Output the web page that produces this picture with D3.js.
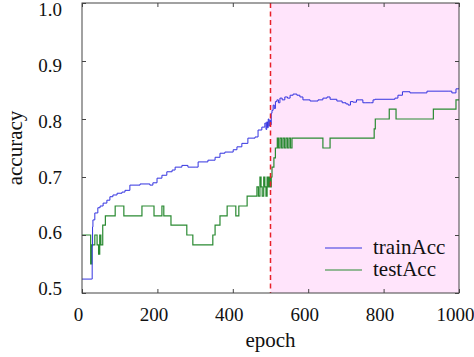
<!DOCTYPE html>
<html><head><meta charset="utf-8">
<script src="https://cdn.jsdelivr.net/npm/d3@7"></script>
<style>body{margin:0;background:#fff}svg{display:block}
svg text{font-family:"Liberation Serif","Times New Roman","DejaVu Serif",serif !important;}</style>
</head><body>
<script>
const xTicks = [0,200,400,600,800,1000];
const yTicks = [0.5,0.6,0.7,0.8,0.9,1.0];
const boundaryEpoch = 500;

const trainEpoch = [0,26,27,28,29,34,42,48,56,66,74,82,93,106,114,127,154,180,188,199,212,225,239,247,265,281,300,308,334,353,366,379,401,411,424,440,459,467,477,485,488,490,492,494,496,498,500,502,504,507,510,513,517,521,525,531,538,545,552,560,570,578,586,605,626,639,650,658,676,690,700,706,712,719,728,737,745,751,765,772,777,830,838,850,870,910,915,971,981,992,1000];
const trainAcc   = [0.524,0.524,0.58,0.614,0.626,0.638,0.647,0.65,0.655,0.66,0.666,0.669,0.672,0.674,0.677,0.686,0.688,0.686,0.69,0.698,0.703,0.709,0.712,0.717,0.72,0.717,0.717,0.726,0.729,0.734,0.741,0.743,0.747,0.752,0.758,0.767,0.769,0.781,0.786,0.793,0.782,0.795,0.785,0.80,0.788,0.798,0.79,0.81,0.815,0.824,0.818,0.83,0.833,0.828,0.836,0.833,0.838,0.836,0.841,0.843,0.841,0.838,0.833,0.831,0.833,0.836,0.838,0.834,0.831,0.828,0.826,0.824,0.83,0.829,0.833,0.833,0.828,0.828,0.828,0.833,0.834,0.836,0.841,0.847,0.845,0.845,0.848,0.848,0.845,0.852,0.853];

const testEpoch = [0,23,26,34,40,44,47,50,55,62,88,111,159,191,212,217,236,278,294,347,353,366,385,408,416,438,464,468,472,475,478,482,485,488,491,494,497,500,502,504,509,513,518,521,525,529,533,537,541,545,549,553,557,639,658,775,778,815,833,932,992,1000];
const testAcc   = [0.6,0.55,0.583,0.6,0.583,0.567,0.6,0.583,0.617,0.633,0.65,0.633,0.65,0.633,0.65,0.633,0.617,0.6,0.583,0.6,0.617,0.633,0.65,0.633,0.65,0.667,0.683,0.667,0.7,0.683,0.667,0.7,0.683,0.667,0.7,0.683,0.7,0.683,0.7,0.717,0.733,0.75,0.767,0.75,0.767,0.75,0.767,0.75,0.767,0.75,0.767,0.75,0.767,0.75,0.767,0.783,0.8,0.817,0.8,0.817,0.833,0.833];

const seriesNames = ["trainAcc","testAcc"];
const colors = ["#3434e0","#2a8a32"];

const W = 474, H = 357;
const m = {left:82, top:3, right:15, bottom:64};
const iw = W - m.left - m.right, ih = H - m.top - m.bottom;
const font = '"Liberation Serif","Times New Roman","DejaVu Serif",serif';

const svg = d3.select("body").append("svg").attr("width",W).attr("height",H)
  .style("font-family",font);
const g = svg.append("g").attr("transform",`translate(${m.left},${m.top})`);

const x = d3.scaleLinear().domain([0,1000]).range([0,iw]);
const y = d3.scaleLinear().domain([0.5,1.0]).range([ih,0]);

svg.append("defs").append("clipPath").attr("id","clip")
  .append("rect").attr("width",iw).attr("height",ih);

// shaded region
g.append("rect").attr("x",x(boundaryEpoch)).attr("y",0)
  .attr("width",x(1000)-x(boundaryEpoch)).attr("height",ih)
  .attr("fill","#ffe4fb");

const line = d3.line().x(d=>x(d[0])).y(d=>y(d[1])).curve(d3.curveStepAfter);
const trainData = trainEpoch.map((e,i)=>[e,trainAcc[i]]);
const testData = testEpoch.map((e,i)=>[e,testAcc[i]]);

const plot = g.append("g").attr("clip-path","url(#clip)");
plot.append("path").datum(testData).attr("d",line).attr("fill","none")
  .attr("stroke",colors[1]).attr("stroke-width",1.2);
plot.append("path").datum(trainData).attr("d",line).attr("fill","none")
  .attr("stroke",colors[0]).attr("stroke-width",1);

// red dashed line
g.append("line").attr("x1",x(boundaryEpoch)).attr("x2",x(boundaryEpoch))
  .attr("y1",0).attr("y2",ih).attr("stroke","#e8202a").attr("stroke-width",1.5)
  .attr("stroke-dasharray","5,3.5");

// axes
const styleAxis = sel => {
  sel.attr("font-family",font);
  sel.select(".domain").remove();
  sel.selectAll(".tick line").attr("stroke","#444");
  sel.selectAll("text").attr("font-size",19).attr("fill","#111");
};
g.append("g").attr("transform",`translate(0,${ih})`)
  .call(d3.axisBottom(x).tickValues(xTicks).tickSize(-4).tickPadding(15).tickFormat(d3.format("d")))
  .call(styleAxis)
  .selectAll(".tick text").attr("dx",-4);
g.append("g")
  .call(d3.axisTop(x).tickValues(xTicks).tickSize(-4).tickFormat(""))
  .call(styleAxis);
const yAx = g.append("g")
  .call(d3.axisLeft(y).tickValues(yTicks).tickSize(-4).tickPadding(20).tickFormat(d3.format(".1f")))
  .call(styleAxis);
// labels in the reference are slightly compressed toward the middle
yAx.selectAll(".tick text").attr("y", d => (d - 0.7) * 23);
g.append("g").attr("transform",`translate(${iw},0)`)
  .call(d3.axisRight(y).tickValues(yTicks).tickSize(-4).tickFormat(""))
  .call(styleAxis);

g.append("rect").attr("width",iw).attr("height",ih).attr("fill","none")
  .attr("stroke","#444").attr("stroke-width",1);

// axis labels
svg.append("text").attr("x",m.left+iw/2).attr("y",347).attr("text-anchor","middle")
  .attr("font-size",21).attr("fill","#111").text("epoch");
svg.append("text").attr("transform",`translate(22,${m.top+ih/2}) rotate(-90)`)
  .attr("text-anchor","middle").attr("font-size",21).attr("fill","#111").text("accuracy");

// legend
const lg = svg.append("g");
seriesNames.forEach((n,i)=>{
  const yy = 248 + i*22;
  lg.append("line").attr("x1",325).attr("x2",362).attr("y1",yy).attr("y2",yy)
    .attr("stroke",colors[i]).attr("stroke-width",1.2);
  lg.append("text").attr("x",373).attr("y",yy+5.5).attr("font-size",21)
    .attr("fill","#111").text(n);
});
</script>
</body></html>
